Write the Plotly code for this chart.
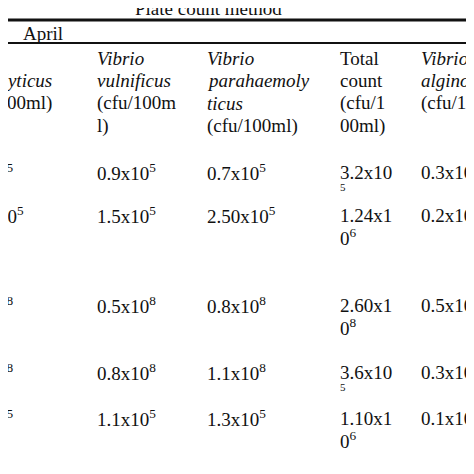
import plotly.graph_objects as go

title = "Plate count method"
month = "April"
col_x = [96, 206, 339, 420]
headers = [
    ["<i>Vibrio</i>", "<i>vulnificus</i>", "(cfu/100m", "l)"],
    ["<i>Vibrio</i>", "<i>parahaemoly</i>", "<i>ticus</i>", "(cfu/100ml)"],
    ["Total", "count", "(cfu/1", "00ml)"],
    ["<i>Vibrio</i>", "<i>algino.</i>", "(cfu/10"],
]
first_col_header = ["•", "•<i>lyticus</i>", "00ml)"]
first_col = ["0<sup>5</sup>", "10<sup>5</sup>", "0<sup>8</sup>", "0<sup>8</sup>", "0<sup>5</sup>"]
vulnificus = ["0.9x10<sup>5</sup>", "1.5x10<sup>5</sup>", "0.5x10<sup>8</sup>", "0.8x10<sup>8</sup>", "1.1x10<sup>5</sup>"]
parahaem = ["0.7x10<sup>5</sup>", "2.50x10<sup>5</sup>", "0.8x10<sup>8</sup>", "1.1x10<sup>8</sup>", "1.3x10<sup>5</sup>"]
total_main = ["3.2x10", "1.24x1", "2.60x1", "3.6x10", "1.10x1"]
total_tail = ["5", "0<sup>6</sup>", "0<sup>8</sup>", "5", "0<sup>6</sup>"]
algino = ["0.3x10", "0.2x10", "0.5x10", "0.3x10", "0.1x10"]
row_centers = [172, 215, 305, 372, 418]

W = 474
OFF = 8  # page body margin
FAM = "Liberation Serif, Times New Roman, serif"
fig = go.Figure()
ann = []
def add(x, y, t, xa="left", size=19):
    ann.append(dict(x=(x - OFF) / W, y=1 - (y - OFF) / W, xref="paper", yref="paper", text=t,
                    showarrow=False, xanchor=xa, yanchor="middle", align="left", borderpad=0,
                    font=dict(family=FAM, size=size, color="#111")))

add(208, 8, title, "center")
add(22, 33, month)
for k, t in enumerate(first_col_header):
    add(53 if k else 6, 58 + 22.5 * k, t, "right")
for x, h in zip(col_x, headers):
    for k, t in enumerate(h):
        add(x, 58 + 22.5 * k, t)
for i, c in enumerate(row_centers):
    add(25 if i == 1 else 15, c, first_col[i], "right")
    add(col_x[0], c, vulnificus[i])
    add(col_x[1], c, parahaem[i])
    add(col_x[2], c, total_main[i])
    if total_tail[i] == "5":
        add(col_x[2], c + 15, total_tail[i], size=11)
    else:
        add(col_x[2], c + 22, total_tail[i])
    add(col_x[3], c, algino[i])

shapes = [
    dict(type="line", xref="paper", yref="paper", x0=-0.05, x1=1.05, y0=1 - (20 - OFF) / W, y1=1 - (20 - OFF) / W, line=dict(color="#111", width=3)),
    dict(type="line", xref="paper", yref="paper", x0=-0.05, x1=1.05, y0=1 - (43 - OFF) / W, y1=1 - (43 - OFF) / W, line=dict(color="#111", width=2)),
]
fig.update_layout(width=W, height=W, margin=dict(l=0, r=0, t=0, b=0), paper_bgcolor="white",
                  plot_bgcolor="white", annotations=ann, shapes=shapes,
                  xaxis=dict(visible=False), yaxis=dict(visible=False))
fig.write_html("out.html")
